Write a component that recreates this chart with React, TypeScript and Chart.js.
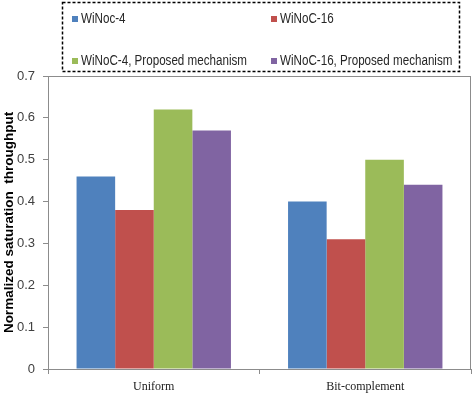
import React, { useEffect, useRef } from "react";
import { Chart, registerables } from "chart.js";

Chart.register(...registerables);

const categories = ["Uniform", "Bit-complement"];
const seriesNames = [
  "WiNoc-4",
  "WiNoC-16",
  "WiNoC-4, Proposed mechanism",
  "WiNoC-16, Proposed mechanism",
];
const winoc4 = [0.46, 0.4];
const winoc16 = [0.38, 0.31];
const winoc4Proposed = [0.62, 0.5];
const winoc16Proposed = [0.57, 0.44];
const colors = ["#4F81BD", "#C0504D", "#9BBB59", "#8064A2"];
const yTicks = [0, 0.1, 0.2, 0.3, 0.4, 0.5, 0.6, 0.7];

const SANS = '"Liberation Sans", Arial, sans-serif';

const framePlugin = {
  id: "frame",
  afterDraw(chart: any) {
    const { ctx, chartArea } = chart;
    ctx.save();
    ctx.strokeStyle = "#8c8c8c";
    ctx.lineWidth = 1;
    ctx.strokeRect(
      Math.round(chartArea.left) + 0.5,
      Math.round(chartArea.top) + 0.5,
      Math.round(chartArea.right - chartArea.left) - 1,
      Math.round(chartArea.bottom - chartArea.top)
    );
    ctx.restore();
  },
};

const legendPlugin = {
  id: "boxLegend",
  afterDraw(chart: any) {
    const { ctx } = chart;
    ctx.save();
    ctx.setLineDash([3, 2]);
    ctx.strokeStyle = "#000";
    ctx.lineWidth = 1.5;
    ctx.strokeRect(62.5, 2.5, 397, 69);
    ctx.setLineDash([]);
    const pos = [
      [72, 19],
      [271, 19],
      [72, 61],
      [271, 61],
    ];
    ctx.font = "14px " + SANS;
    ctx.textBaseline = "middle";
    chart.data.datasets.forEach((ds: any, i: number) => {
      const [x, y] = pos[i];
      ctx.fillStyle = ds.backgroundColor;
      ctx.fillRect(x, y - 3, 6, 6);
      ctx.fillStyle = "#262626";
      const w = ctx.measureText(ds.label).width * 0.83;
      ctx.fillText(ds.label, x + 9, y, w);
    });
    ctx.restore();
  },
};

export default function App() {
  const ref = useRef<HTMLCanvasElement>(null);
  useEffect(() => {
    document.body.style.margin = "0";
    const data = [winoc4, winoc16, winoc4Proposed, winoc16Proposed];
    const chart = new Chart(ref.current!, {
      type: "bar",
      data: {
        labels: categories,
        datasets: seriesNames.map((name, i) => ({
          label: name,
          data: data[i],
          backgroundColor: colors[i],
          borderWidth: 0,
          barPercentage: 1,
          categoryPercentage: 0.73,
        })),
      },
      options: {
        responsive: false,
        animation: false,
        layout: { padding: { top: 76, right: 3, left: 0, bottom: 0 } },
        plugins: { legend: { display: false }, tooltip: { enabled: false } },
        scales: {
          x: {
            grid: {
              display: true,
              offset: true,
              drawOnChartArea: false,
              tickLength: 5,
              color: "#8c8c8c",
            },
            border: { color: "#8c8c8c" },
            ticks: {
              color: "#1a1a1a",
              font: { family: '"Liberation Serif", "Times New Roman", serif', size: 12 },
              padding: 6,
            },
            afterFit(scale: any) {
              scale.height = 28;
            },
          },
          y: {
            min: 0,
            max: 0.7,
            afterBuildTicks(scale: any) {
              scale.ticks = yTicks.map((v) => ({ value: v }));
            },
            grid: {
              display: true,
              drawOnChartArea: false,
              tickLength: 5,
              color: "#8c8c8c",
            },
            border: { color: "#8c8c8c" },
            ticks: {
              color: "#404040",
              padding: 8,
              font: { family: SANS, size: 13 },
              callback: (v: any) => String(Math.round(Number(v) * 10) / 10),
            },
            title: {
              display: true,
              text: "Normalized saturation  throughput",
              color: "#000",
              font: { family: SANS, size: 13.5, weight: "bold" },
              padding: { top: 1, bottom: 0 },
            },
            afterFit(scale: any) {
              scale.width = 48;
            },
          },
        },
      },
      plugins: [framePlugin, legendPlugin],
    });
    return () => chart.destroy();
  }, []);
  return <canvas ref={ref} width={474} height={397} style={{ display: "block" }} />;
}
